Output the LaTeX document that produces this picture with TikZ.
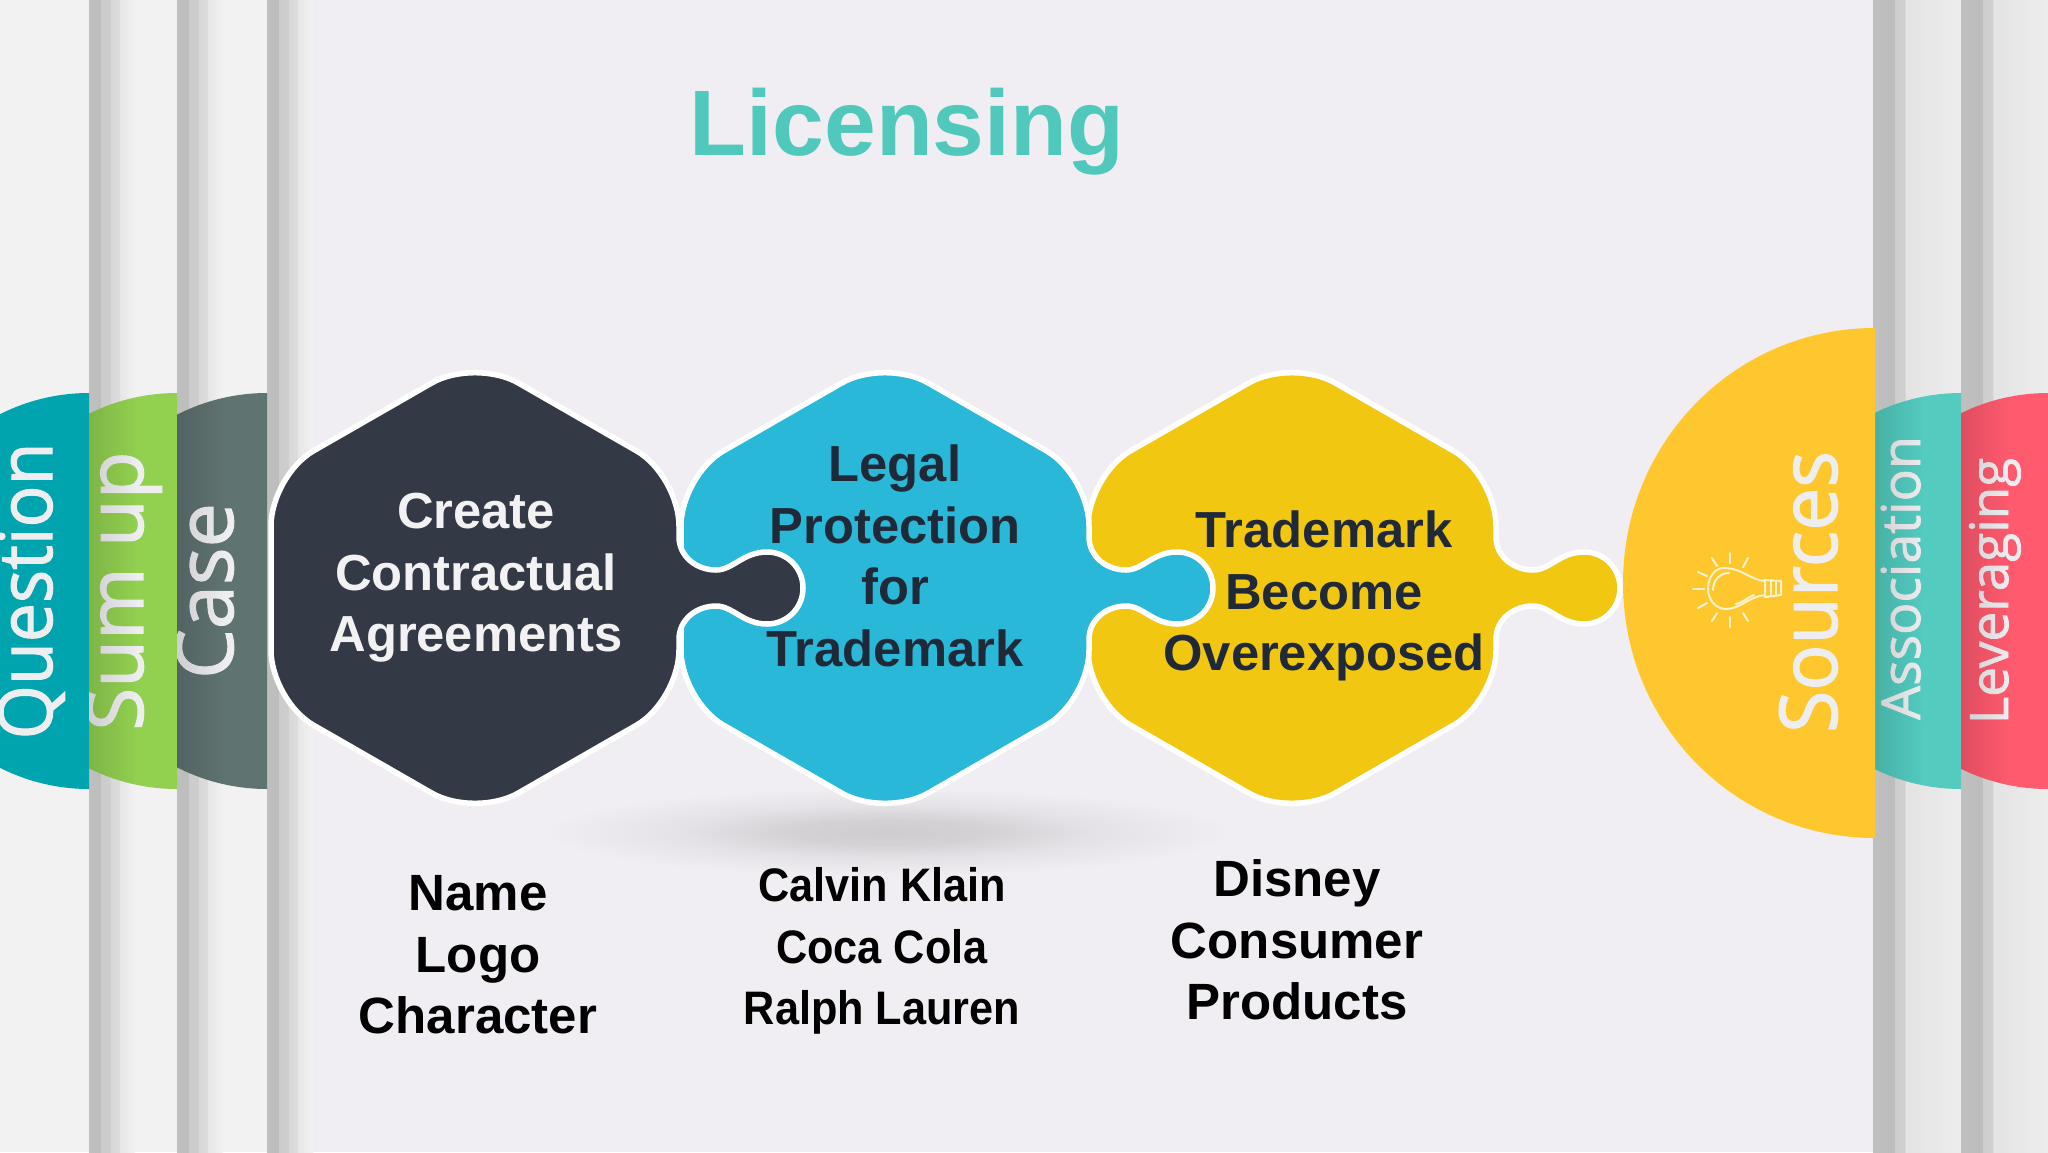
\documentclass[tikz,border=0pt]{standalone}
\usepackage{fontspec}
\usetikzlibrary{fadings}
\setmainfont{Liberation Sans}
\newfontfamily\sidefont[FakeBold=1.5]{Open Sans}
\definecolor{bgmain}{HTML}{F0EEF2}
\definecolor{bgside}{HTML}{F2F2F3}
\definecolor{darkpiece}{HTML}{333A45}
\definecolor{bluepiece}{HTML}{29B8D8}
\definecolor{yellowpiece}{HTML}{F2C711}
\definecolor{sourcegold}{HTML}{FFC72E}
\definecolor{questionteal}{HTML}{00A4AE}
\definecolor{sumgreen}{HTML}{92D050}
\definecolor{caseslate}{HTML}{5F7371}
\definecolor{assocteal}{HTML}{53CBBF}
\definecolor{leverred}{HTML}{FF5A6E}
\definecolor{titleteal}{HTML}{50C8BB}
\definecolor{inktext}{HTML}{1F2937}
\definecolor{sidetext}{HTML}{EEEEF1}
\definecolor{bulbline}{HTML}{FFF3CF}
\pgfdeclarehorizontalshading{stripefade}{100bp}{color(0bp)=(black!21!bgside); color(25bp)=(black!21!bgside); color(37bp)=(black!22!bgside); color(37.5bp)=(black!16!bgside); color(48bp)=(black!15!bgside); color(48.5bp)=(black!11!bgside); color(58bp)=(black!9!bgside); color(58.5bp)=(black!5!bgside); color(75bp)=(bgside); color(100bp)=(bgside)}
\pgfdeclarehorizontalshading{widefade}{100bp}{color(0bp)=(black!21!bgside); color(25bp)=(black!21!bgside); color(37bp)=(black!22!bgside); color(37.5bp)=(black!15!bgside); color(43bp)=(black!14!bgside); color(43.5bp)=(black!6!bgside); color(75bp)=(black!2!bgside); color(100bp)=(black!2!bgside)}
\pgfdeclareradialshading{floorglow}{\pgfpoint{0bp}{0bp}}{color(0bp)=(black!14!bgmain); color(7bp)=(black!12!bgmain); color(15bp)=(black!5!bgmain); color(25bp)=(bgmain); color(100bp)=(bgmain)}
\def\piecepath{(-43.3,-205) .. controls (-19.5,-218.75) and (19.5,-218.75) .. (43.3,-205)
 -- (161.7,-137) .. controls (185.5,-123.25) and (204,-89.5) .. (204,-62)
 -- (204,-51) .. controls (204,-32) and (221,-18) .. (241,-18)
 .. controls (258,-18) and (268,-36) .. (292,-36)
 .. controls (312,-36) and (328,-20) .. (328,0)
 .. controls (328,20) and (312,36) .. (292,36)
 .. controls (268,36) and (258,18) .. (241,18)
 .. controls (221,18) and (204,32) .. (204,51)
 -- (204,62) .. controls (204,89.5) and (185.5,123.25) .. (161.7,137)
 -- (43.3,205) .. controls (19.5,218.75) and (-19.5,218.75) .. (-43.3,205)
 -- (-161.7,137) .. controls (-185.5,123.25) and (-204,89.5) .. (-204,62)
 -- (-204,-62) .. controls (-204,-89.5) and (-185.5,-123.25) .. (-161.7,-137) -- cycle}
\def\tabpath{(0,-198) .. controls (-109,-198) and (-198,-109) .. (-198,0) .. controls (-198,109) and (-109,198) .. (0,198) -- cycle}
\tikzset{
  piece/.style={draw=white,line width=5.5pt,line join=round},
  boxtext/.style={align=center,font=\bfseries\fontsize{50.7}{61.5}\selectfont},
  undertext/.style={align=center,text=black,font=\bfseries\fontsize{51}{61.5}\selectfont},
  sidelabel/.style={rotate=90,anchor=base,text=sidetext,font=\sidefont\fontsize{#1}{#1}\selectfont},
  stripe/.style={shading=stripefade},
  widestripe/.style={shading=widefade},
  tabfade/.style={black,opacity=.13,path fading=east},
  bulb/.style={draw=bulbline,line width=2pt,line cap=round,line join=round}
}
\begin{document}
\begin{tikzpicture}[x=1pt,y=-1pt]
\useasboundingbox (0,0) rectangle (2048,1152);
\fill[bgmain] (0,0) rectangle (2048,1152);
\fill[bgside] (0,0) rectangle (267,1152);
\fill[bgside] (1873,0) rectangle (2048,1152);
\shade[stripe] (89,0) rectangle (135,1152);
\shade[stripe] (177,0) rectangle (223,1152);
\shade[stripe] (267,0) rectangle (313,1152);
\shade[widestripe] (1873,0) rectangle (1961,1152);
\shade[widestripe] (1961,0) rectangle (2048,1152);
\shade[shading=floorglow] (888,832) ellipse [x radius=345,y radius=44];
% tabs on the left
\begin{scope}[shift={(89,591)}]
\clip (-89,-200) rectangle (0,200);
\fill[questionteal] \tabpath;
\node[sidelabel=75,xscale=.93] (question) at (-37,0) {Question};
\end{scope}
\begin{scope}[shift={(177,591)}]
\clip (-88,-200) rectangle (0,200);
\fill[sumgreen] \tabpath;
\node[sidelabel=78] (sumup) at (-34,0) {Sum up};
\clip \tabpath;
\fill[tabfade] (-88,-198) rectangle (-40,198);
\end{scope}
\begin{scope}[shift={(267,591)}]
\clip (-90,-200) rectangle (0,200);
\fill[caseslate] \tabpath;
\node[sidelabel=79] (case) at (-34,0) {Case};
\clip \tabpath;
\fill[tabfade] (-90,-198) rectangle (-42,198);
\end{scope}
% tabs on the right
\begin{scope}[shift={(1961,591)}]
\clip (-86,-200) rectangle (0,200);
\fill[assocteal] \tabpath;
\node[sidelabel=53.5] (association) at (-41,-13) {Association};
\clip \tabpath;
\fill[tabfade] (-86,-198) rectangle (-38,198);
\end{scope}
\begin{scope}[shift={(2048,591)}]
\clip (-87,-200) rectangle (0,200);
\fill[leverred] \tabpath;
\node[sidelabel=53] (leveraging) at (-40,0) {Leveraging};
\clip \tabpath;
\fill[tabfade] (-87,-198) rectangle (-39,198);
\end{scope}
% half disc with the bulb
\fill[sourcegold] (1875,328) .. controls (1735,328) and (1623,442) .. (1623,583) .. controls (1623,724) and (1735,838) .. (1875,838) -- cycle;
\node[sidelabel=80,xscale=.96] (sources) at (1837,592) {Sources};
\draw[bulb] (1765,581) .. controls (1750,580) and (1742,568) .. (1724,568) .. controls (1714,568) and (1708,578) .. (1708,589) .. controls (1708,600) and (1716,609) .. (1726,609) .. controls (1740,609) and (1750,596) .. (1765,595);
\draw[bulb] (1765,580) -- (1781,581) -- (1781,595) -- (1765,597) -- cycle;
\draw[bulb] (1771,581) -- (1771,596);
\draw[bulb] (1776,581) -- (1776,596);
\draw[bulb] (1729,573) .. controls (1719,573) and (1713,581) .. (1713,590);
\draw[bulb] (1736,604) .. controls (1744,602) and (1748,597) .. (1754,595);
\draw[bulb] (1693,589) -- (1704,589);
\draw[bulb] (1730,553) -- (1730,563);
\draw[bulb] (1730,617) -- (1730,627);
\draw[bulb] (1712,558) -- (1717,566);
\draw[bulb] (1748,558) -- (1743,567);
\draw[bulb] (1712,621) -- (1717,613);
\draw[bulb] (1748,621) -- (1743,613);
\draw[bulb] (1698,572) -- (1707,576);
\draw[bulb] (1698,608) -- (1707,603);
% puzzle pieces, the left one on top
\draw[piece,fill=yellowpiece,shift={(1292,588)}] \piecepath;
\draw[piece,fill=bluepiece,shift={(885,588)}] \piecepath;
\draw[piece,fill=darkpiece,shift={(475,588)}] \piecepath;
\node[anchor=base,text=titleteal,font=\bfseries\fontsize{93}{93}\selectfont] (title) at (907,155) {Licensing};
\node[boxtext,text=white!95!black] (agreements) at (476,578) {Create\\Contractual\\Agreements};
\node[boxtext,text=inktext] (protection) at (895,556) {Legal\\Protection\\for\\Trademark};
\node[boxtext,text=inktext] (overexposed) at (1324,596) {Trademark\\Become\\Overexposed};
\node[undertext] (name) at (478,955) {Name\\Logo\\Character};
\node[undertext,xscale=.92,font=\bfseries\fontsize{47}{61.5}\selectfont] (brands) at (882,951) {Calvin Klain\\Coca Cola\\Ralph Lauren};
\node[undertext] (disney) at (1297,940) {Disney\\Consumer\\Products};
\end{tikzpicture}
\end{document}
